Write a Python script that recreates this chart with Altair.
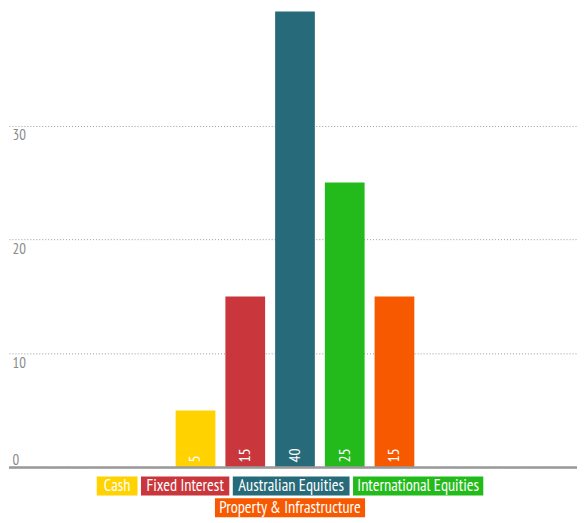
import altair as alt
import pandas as pd

categories = ["Cash", "Fixed Interest", "Australian Equities", "International Equities", "Property & Infrastructure"]
values = [5, 15, 40, 25, 15]
colors = ["#FFD200", "#C9363B", "#276A7A", "#23BB1B", "#F65900"]
y_ticks = [0, 10, 20, 30]

FONT = "Liberation Sans Narrow, PT Sans Narrow, Roboto Condensed, DejaVu Sans Condensed, sans-serif"
W = 572
H = 461

df = pd.DataFrame({"cat": categories, "value": values, "idx": list(range(len(categories)))})

color_scale = alt.Scale(domain=categories, range=colors)
x_scale = alt.Scale(domain=[-3.65, 7.57], nice=False, zero=False)
y_scale = alt.Scale(domain=[0, 40.15], nice=False)

bars = alt.Chart(df).mark_bar(width=40).encode(
    x=alt.X("idx:Q", scale=x_scale, axis=None),
    y=alt.Y("value:Q", scale=y_scale,
            axis=alt.Axis(values=y_ticks, title=None, ticks=False, tickSize=0, domain=False,
                          labelAlign="left", labelPadding=-3,
                          labelBaseline=alt.ExprRef(expr="datum.value === 0 ? 'bottom' : 'top'"),
                          labelOffset=alt.ExprRef(expr="datum.value === 0 ? 0 : 2"),
                          labelColor="#8a8a8a", labelFontSize=15, labelFont=FONT,
                          gridColor="#9a9a9a", gridDash=[1, 2], gridWidth=1)),
    color=alt.Color("cat:N", scale=color_scale, legend=None),
)

baseline = alt.Chart(df).mark_rule(color="#9a9a9a", strokeWidth=1.5).encode(y=alt.datum(0))

labels = alt.Chart(df).mark_text(angle=270, align="left", baseline="middle", dx=5,
                                 color="white", fontSize=16, font=FONT).encode(
    x=alt.X("idx:Q", scale=x_scale),
    y=alt.datum(0),
    text=alt.Text("value:Q"),
)

main = alt.layer(bars, baseline, labels).properties(width=W, height=H)

# legend layout: box widths estimated from the label text (Arial-narrow style metrics)
LEG_FS = 16.5
_adv = {"a": 556, "c": 500, "s": 500, "h": 556, "i": 222, "l": 222, "t": 278, "f": 278,
        "r": 333, " ": 278, "e": 556, "n": 556, "x": 500, "d": 556, "u": 556, "q": 556,
        "o": 556, "p": 556, "y": 500, "&": 667, "F": 611, "I": 278, "A": 667, "E": 667,
        "P": 667, "C": 722}

def box_w(s):
    return sum(_adv.get(ch, 556) for ch in s) / 1000 * 0.78 * LEG_FS + 11

gap = 3.5
max_row = 420
rows, cur, cur_w = [], [], 0
for c in categories:
    w = box_w(c)
    add = w if not cur else w + gap
    if cur and cur_w + add > max_row:
        rows.append(cur)
        cur, cur_w = [c], w
    else:
        cur.append(c)
        cur_w += add
rows.append(cur)

center = 283
recs = []
for ri, row in enumerate(rows):
    total = sum(box_w(c) for c in row) + gap * (len(row) - 1)
    x = center - total / 2
    for c in row:
        w = box_w(c)
        recs.append({"cat": c, "row": ri, "x0": x, "x1": x + w, "xc": x + w / 2})
        x += w + gap
ldf = pd.DataFrame(recs)

lx = alt.Scale(domain=[0, W], nice=False, zero=False)
ly = alt.Y("row:O", scale=alt.Scale(paddingInner=0.12, paddingOuter=0), axis=None)
lrect = alt.Chart(ldf).mark_bar().encode(
    x=alt.X("x0:Q", scale=lx, axis=None), x2="x1:Q", y=ly,
    color=alt.Color("cat:N", scale=color_scale, legend=None),
)
ltext = alt.Chart(ldf).mark_text(color="white", fontSize=LEG_FS, font=FONT, baseline="middle", dy=0.5).encode(
    x=alt.X("xc:Q", scale=lx, axis=None), y=ly, text="cat:N",
)
legend = alt.layer(lrect, ltext).properties(width=W, height=41)

chart = alt.vconcat(main, legend, spacing=8).configure(
    font=FONT, background="white", padding=0
).configure_view(stroke=None)

chart.save("out.html", embed_options={"renderer": "svg", "actions": False})
